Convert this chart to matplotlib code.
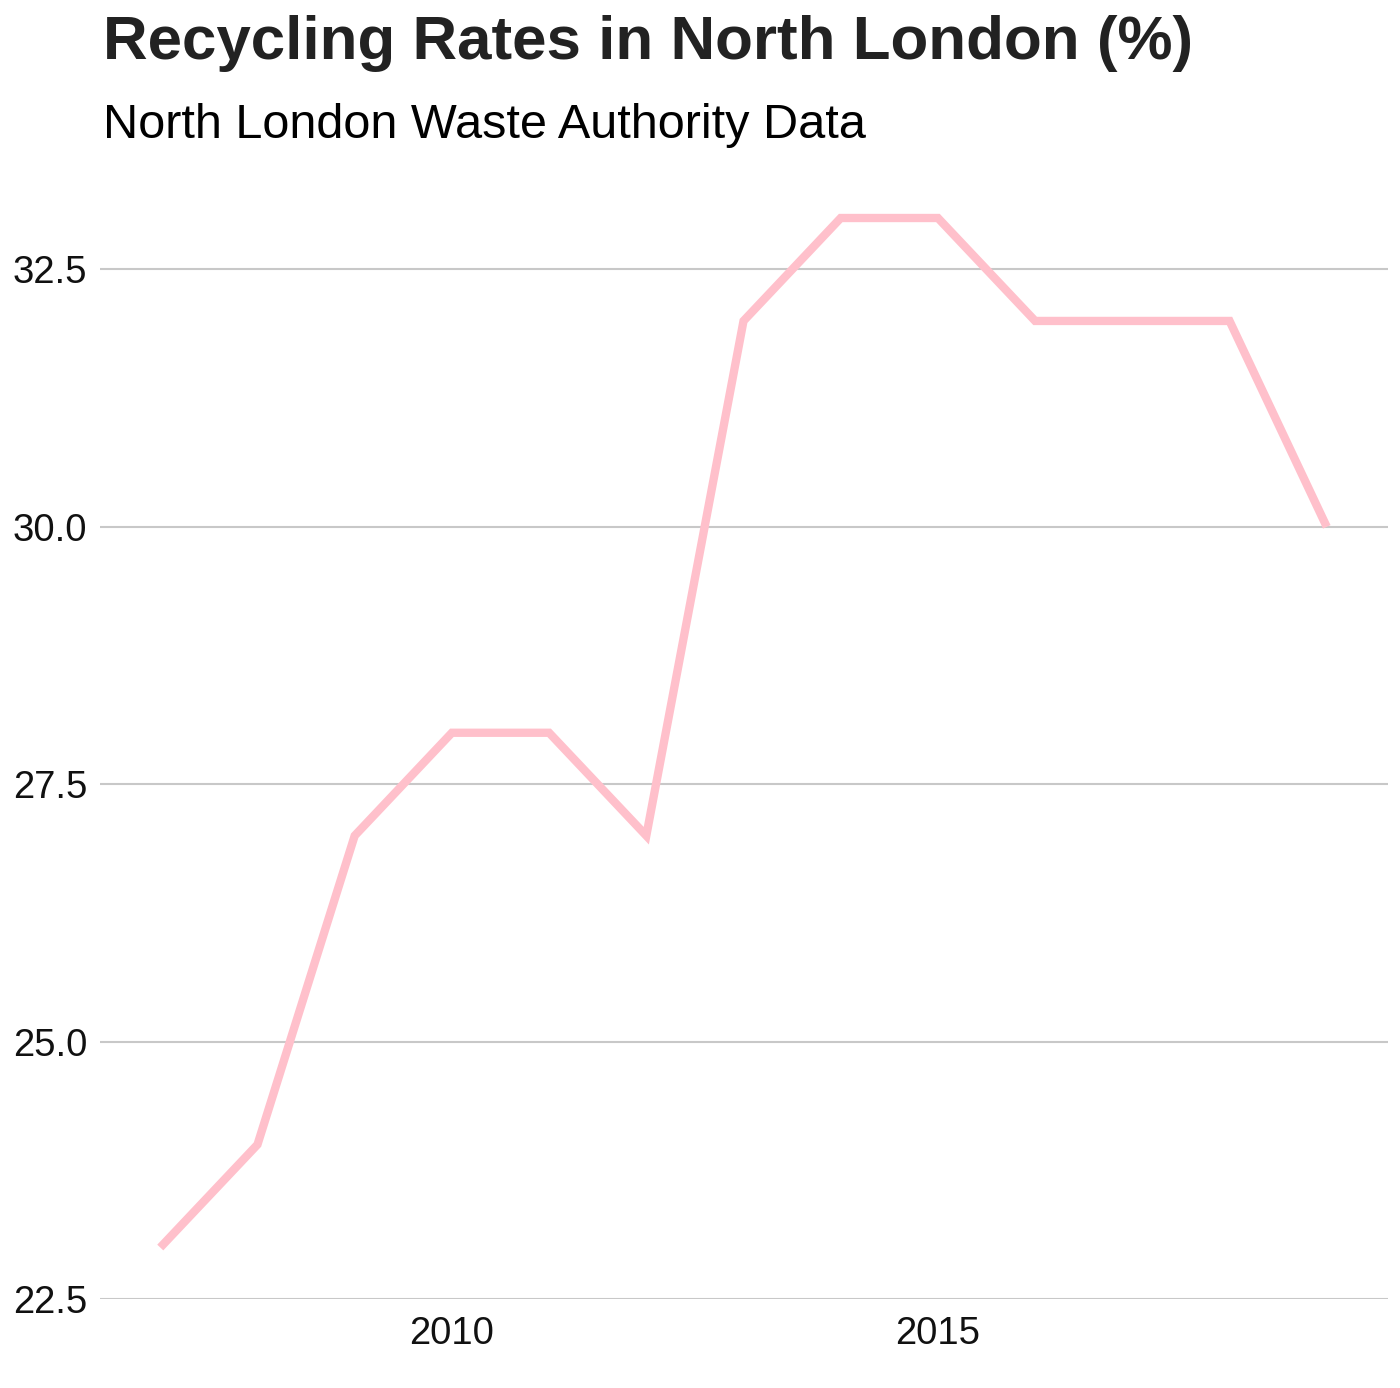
import matplotlib
matplotlib.use("Agg")
import matplotlib.pyplot as plt

years = [2007, 2008, 2009, 2010, 2011, 2012, 2013, 2014, 2015, 2016, 2017, 2018, 2019]
rates = [23, 24, 27, 28, 28, 27, 32, 33, 33, 32, 32, 32, 30]
yticks = [22.5, 25.0, 27.5, 30.0, 32.5]
xticks = [2010, 2015]

plt.rcParams['font.family'] = ['Liberation Sans', 'DejaVu Sans']

fig = plt.figure(figsize=(14, 13.88), dpi=100)
ax = fig.add_axes([100/1400, 1 - 1299/1388, (1388-100)/1400, (1299-218)/1388])

for y in yticks:
    ax.axhline(y, color='#c8c8c8', lw=1.5, zorder=1)

ax.plot(years, rates, color='#ffc0cb', lw=6, solid_joinstyle='miter', solid_capstyle='butt',
        zorder=3, clip_on=False)

ax.set_xlim(2006.38, 2019.63)
ax.set_ylim(22.5, 33.0)
ax.set_yticks(yticks)
ax.set_yticklabels([f"{v:.1f}" for v in yticks])
ax.set_xticks(xticks)
ax.set_xticklabels([str(v) for v in xticks])
ax.tick_params(axis='both', length=0, labelsize=27.5, colors='#111111')
ax.tick_params(axis='y', pad=9)
ax.tick_params(axis='x', pad=12)
for s in ax.spines.values():
    s.set_visible(False)

fig.text(103/1400, 1 - 59/1388, "Recycling Rates in North London (%)", fontsize=44.6, fontweight='bold',
         color='#222222', ha='left', va='baseline')
fig.text(103/1400, 1 - 138/1388, "North London Waste Authority Data", fontsize=35,
         color='#000000', ha='left', va='baseline')

fig.savefig("out.png", dpi=100, facecolor='white')
